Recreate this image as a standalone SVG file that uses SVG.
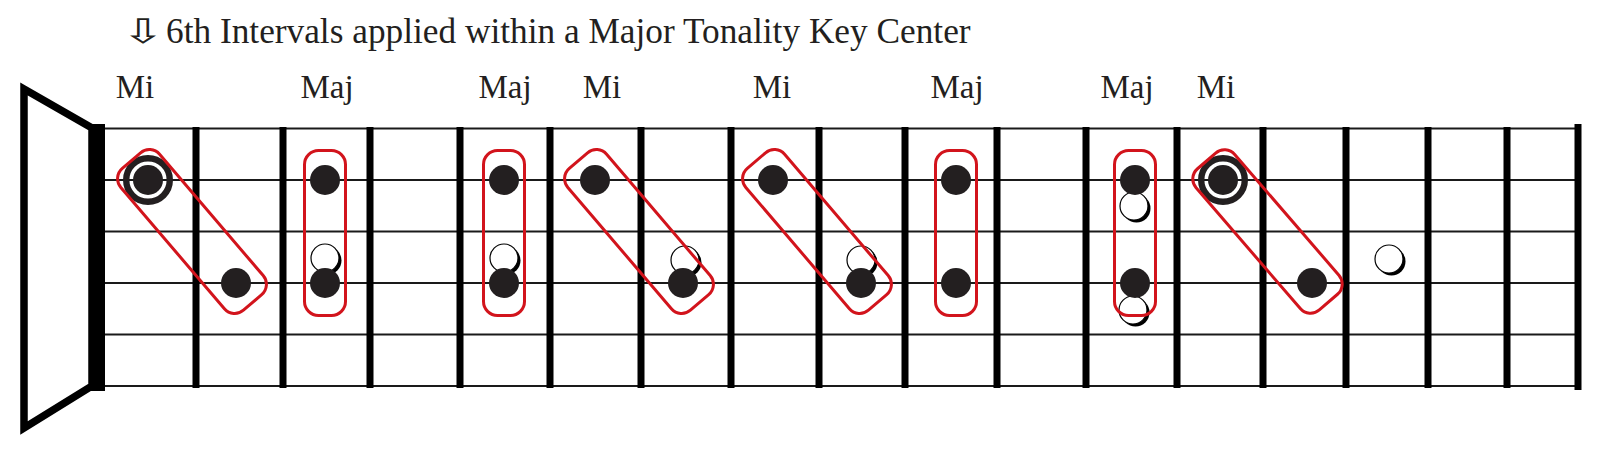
<svg xmlns="http://www.w3.org/2000/svg" xmlns:xlink="http://www.w3.org/1999/xlink" width="1600" height="465" viewBox="0 0 1600 465">
<style>
.title{font-family:"Liberation Serif",serif;font-size:35.3px;fill:#231f20}
.arrow{font-family:"DejaVu Sans",sans-serif;font-size:34px;fill:#231f20}
.lbl{font-family:"Liberation Serif",serif;font-size:33px;fill:#231f20;text-anchor:middle}
.string{stroke:#1a1a1a;stroke-width:2.2}
.fret{stroke:#000;stroke-width:7}
.dot{fill:#231f20}
.ring{fill:none;stroke:#231f20;stroke-width:6.4}
.shadow{fill:#000}
.ghost{fill:#fff;stroke:#000;stroke-width:1.2}
.box{fill:none;stroke:#d2141c;stroke-width:3}
</style>
<defs>
<g id="ghostDot"><circle class="shadow" cx="2.5" cy="2.5" r="14"/><circle class="ghost" cx="0" cy="0" r="14"/></g>
<rect id="diagBox" class="box" x="-93.25" y="-25.5" width="186.5" height="51" rx="13.5"/>
<rect id="vertBox" class="box" x="-20.5" y="0" width="41" height="165" rx="14"/>
</defs>
<rect width="1600" height="465" fill="#fff"/>
<g id="title">
<text class="arrow" transform="translate(121 43) scale(1.55 1)">⇩</text>
<text x="166" y="43" class="title">6th Intervals applied within a Major Tonality Key Center</text>
</g>
<g id="headstock">
<polygon points="24,89 92,128 92,386 24,428" fill="#fff" stroke="#000" stroke-width="7.5"/>
<rect x="90" y="124" width="15" height="267" fill="#000"/>
</g>
<g id="fretboard">
<g id="strings">
<line class="string" x1="105" y1="128.5" x2="1578" y2="128.5"/>
<line class="string" x1="105" y1="180" x2="1578" y2="180"/>
<line class="string" x1="105" y1="231.5" x2="1578" y2="231.5"/>
<line class="string" x1="105" y1="283" x2="1578" y2="283"/>
<line class="string" x1="105" y1="334.5" x2="1578" y2="334.5"/>
<line class="string" x1="105" y1="386" x2="1578" y2="386"/>
</g>
<g id="frets">
<line class="fret" x1="196" y1="127" x2="196" y2="388"/>
<line class="fret" x1="283" y1="127" x2="283" y2="388"/>
<line class="fret" x1="370" y1="127" x2="370" y2="388"/>
<line class="fret" x1="460" y1="127" x2="460" y2="388"/>
<line class="fret" x1="550" y1="127" x2="550" y2="388"/>
<line class="fret" x1="641" y1="127" x2="641" y2="388"/>
<line class="fret" x1="731" y1="127" x2="731" y2="388"/>
<line class="fret" x1="819" y1="127" x2="819" y2="388"/>
<line class="fret" x1="905" y1="127" x2="905" y2="388"/>
<line class="fret" x1="997" y1="127" x2="997" y2="388"/>
<line class="fret" x1="1086" y1="127" x2="1086" y2="388"/>
<line class="fret" x1="1177" y1="127" x2="1177" y2="388"/>
<line class="fret" x1="1263" y1="127" x2="1263" y2="388"/>
<line class="fret" x1="1346" y1="127" x2="1346" y2="388"/>
<line class="fret" x1="1428" y1="127" x2="1428" y2="388"/>
<line class="fret" x1="1507" y1="127" x2="1507" y2="388"/>
<line class="fret" x1="1578" y1="124" x2="1578" y2="390"/>
</g>
</g>
<g id="interval-1">
<text class="lbl" x="135" y="98">Mi</text>
<circle class="ring" cx="148" cy="180" r="21.8"/>
<circle class="dot" cx="148" cy="180" r="15"/>
<circle class="dot" cx="236" cy="283" r="15"/>
<use xlink:href="#diagBox" transform="translate(192 231.5) rotate(49.5)"/>
</g>
<g id="interval-2">
<text class="lbl" x="327" y="98">Maj</text>
<use xlink:href="#ghostDot" x="325" y="258"/>
<circle class="dot" cx="325" cy="180" r="15"/>
<circle class="dot" cx="325" cy="283" r="15"/>
<use xlink:href="#vertBox" x="325" y="150.5"/>
</g>
<g id="interval-3">
<text class="lbl" x="505" y="98">Maj</text>
<use xlink:href="#ghostDot" x="504" y="258"/>
<circle class="dot" cx="504" cy="180" r="15"/>
<circle class="dot" cx="504" cy="283" r="15"/>
<use xlink:href="#vertBox" x="504" y="150.5"/>
</g>
<g id="interval-4">
<text class="lbl" x="602" y="98">Mi</text>
<use xlink:href="#ghostDot" x="685" y="260"/>
<circle class="dot" cx="595" cy="180" r="15"/>
<circle class="dot" cx="683" cy="283" r="15"/>
<use xlink:href="#diagBox" transform="translate(639 231.5) rotate(49.5)"/>
</g>
<g id="interval-5">
<text class="lbl" x="772" y="98">Mi</text>
<use xlink:href="#ghostDot" x="861" y="260"/>
<circle class="dot" cx="773" cy="180" r="15"/>
<circle class="dot" cx="861" cy="283" r="15"/>
<use xlink:href="#diagBox" transform="translate(817 231.5) rotate(49.5)"/>
</g>
<g id="interval-6">
<text class="lbl" x="957" y="98">Maj</text>
<circle class="dot" cx="956" cy="180" r="15"/>
<circle class="dot" cx="956" cy="283" r="15"/>
<use xlink:href="#vertBox" x="956" y="150.5"/>
</g>
<g id="interval-7">
<text class="lbl" x="1127" y="98">Maj</text>
<use xlink:href="#ghostDot" x="1134" y="206"/>
<use xlink:href="#ghostDot" x="1133" y="310"/>
<circle class="dot" cx="1135" cy="180" r="15"/>
<circle class="dot" cx="1135" cy="283" r="15"/>
<use xlink:href="#vertBox" x="1135" y="150.5"/>
</g>
<g id="interval-8">
<text class="lbl" x="1216" y="98">Mi</text>
<circle class="ring" cx="1223" cy="180" r="21.8"/>
<circle class="dot" cx="1223" cy="180" r="15"/>
<circle class="dot" cx="1312" cy="283" r="15"/>
<use xlink:href="#diagBox" transform="translate(1267.5 231.5) rotate(49.2)"/>
</g>
<g id="extra-note">
<use xlink:href="#ghostDot" x="1389" y="259"/>
</g>
<g id="connectors"/>
</svg>
